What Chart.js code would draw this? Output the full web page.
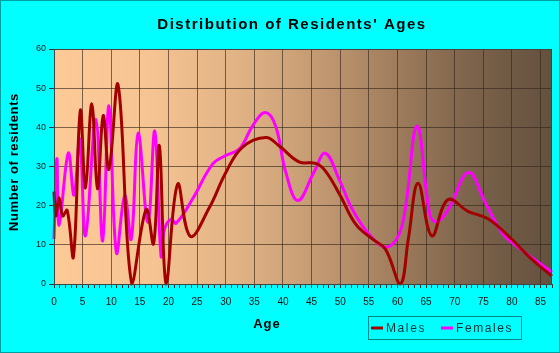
<!DOCTYPE html>
<html>
<head>
<meta charset="utf-8">
<script src="https://cdn.jsdelivr.net/npm/chart.js@4"></script>
<style>
  html, body { margin: 0; padding: 0; background: #00ffff; }
  #wrap { width: 560px; height: 353px; }
</style>
</head>
<body>
<div id="wrap"><canvas id="ages" width="560" height="353"></canvas></div>
<script>
// values (age, residents)
const maleAges = [0, 0.3, 0.9, 1.5, 2.3, 3.4, 4.6, 5.5, 6.6, 7.6, 8.6, 9.6, 11.2, 13.6, 16.1, 17.4, 18.4, 19.6, 21.6, 23.8,
    27.1, 30, 32.9, 37, 39.3, 42.8, 45.7, 47.4, 50, 52.7, 55.6, 57.9, 60.5, 61.9, 63.6, 66, 68.8, 72.4, 75.9, 79.9, 83.4, 87];
const maleCounts = [23.6, 17.4, 22, 17.4, 18.8, 7, 44.3, 24.5, 46, 24.3, 43, 29.3, 50.8, 0, 19, 10.3, 35.3, 0, 25.5, 12.2,
    19.4, 28.4, 34.9, 37.4, 35.3, 31.2, 30.8, 28.9, 22.6, 15.3, 11.5, 8.9, 0, 11.5, 25.7, 12.3, 21.5, 18.5, 16.6, 11.5, 6.4, 2];

const femaleAges = [0, 0.5, 0.9, 2.5, 3.5, 4.5, 5.5, 7.3, 8.5, 9.6, 10.9, 12.35, 13.5, 14.7, 16.4, 17.6, 18.7, 19.3, 20.5, 21.3,
    24.2, 27.7, 30, 32.4, 34.7, 36.9, 38.7, 40.5, 42.6, 45.4, 47.4, 49.8, 52.1, 55, 58.2, 60.8, 63.4, 65.7, 66.9, 68.9,
    72.4, 75.3, 78.2, 80.7, 87];
const femaleCounts = [11.5, 32, 15, 33.4, 22.7, 37, 12.3, 42, 11, 45.5, 8, 22.5, 11.5, 38.5, 15.7, 39, 7.2, 14, 16.6, 15.5,
    21.7, 30.6, 32.8, 34.5, 40.4, 43.8, 40.4, 28.5, 21.3, 28.5, 33.4, 26.8, 19.1, 12.8, 9.4, 14.9, 40.3, 17.4, 15.9, 19.1,
    28.5, 20.9, 13.2, 9.8, 3];

const seriesNames = ['Males', 'Females'];
const chartTitle = "Distribution of Residents' Ages";
const xTitle = 'Age';
const yTitle = 'Number of residents';

function toPoints(xs, ys) {
    return xs.map((x, i) => ({ x: x, y: ys[i] }));
}

const FONT = '"Liberation Sans", Arial, sans-serif';

// plot background + frame + texts
const decor = {
    id: 'decor',
    beforeDraw(chart) {
        const { ctx, chartArea: a, width, height } = chart;
        ctx.save();
        ctx.fillStyle = '#00ffff';
        ctx.fillRect(0, 0, width, height);
        const g = ctx.createLinearGradient(a.left, 0, a.right, 0);
        g.addColorStop(0, '#fcc997');
        g.addColorStop(0.2, '#f6c392');
        g.addColorStop(0.4, '#dcaf82');
        g.addColorStop(0.55, '#bf9670');
        g.addColorStop(0.7, '#9c7a5b');
        g.addColorStop(0.85, '#7a614a');
        g.addColorStop(1, '#63513e');
        ctx.fillStyle = g;
        ctx.fillRect(a.left, a.top, a.right - a.left, a.bottom - a.top);
        ctx.restore();
    },
    afterDraw(chart) {
        const { ctx, chartArea: a, width, height } = chart;
        ctx.save();
        // plot frame
        ctx.strokeStyle = '#444';
        ctx.lineWidth = 1;
        ctx.strokeRect(a.left + 0.5, a.top + 0.5, a.right - a.left - 1, a.bottom - a.top);
        // outer border
        ctx.strokeStyle = '#00a0a0';
        ctx.strokeRect(0.5, 0.5, width - 1, height - 1);

        ctx.fillStyle = '#000';
        ctx.textBaseline = 'middle';
        ctx.textAlign = 'center';
        ctx.letterSpacing = '1.5px';
        ctx.font = 'bold 15px ' + FONT;
        ctx.fillText(chartTitle, 292, 25);

        ctx.letterSpacing = '1px';
        ctx.font = 'bold 13px ' + FONT;
        ctx.fillText(xTitle, 267, 324);

        ctx.save();
        ctx.translate(14, 162);
        ctx.rotate(-Math.PI / 2);
        ctx.letterSpacing = '0.6px';
        ctx.font = 'bold 13px ' + FONT;
        ctx.fillText(yTitle, 0, 0);
        ctx.restore();

        // legend box
        ctx.strokeStyle = '#008888';
        ctx.strokeRect(368.5, 316.5, 153, 23);
        ctx.textAlign = 'left';
        ctx.letterSpacing = '1.6px';
        ctx.font = '12px ' + FONT;
        const items = [
            { label: seriesNames[0], color: chart.data.datasets[0].borderColor, x: 371 },
            { label: seriesNames[1], color: chart.data.datasets[1].borderColor, x: 441 }
        ];
        items.forEach(it => {
            ctx.strokeStyle = it.color;
            ctx.lineWidth = 3;
            ctx.beginPath();
            ctx.moveTo(it.x, 328);
            ctx.lineTo(it.x + 12, 328);
            ctx.stroke();
            ctx.fillStyle = '#003333';
            ctx.fillText(it.label, it.x + 15, 328.5);
        });
        ctx.restore();
    }
};

new Chart(document.getElementById('ages'), {
    type: 'line',
    data: {
        datasets: [{
            label: seriesNames[0],
            data: toPoints(maleAges, maleCounts),
            borderColor: '#a30000',
            borderWidth: 3,
            pointRadius: 0,
            tension: 0.4,
            clip: 4
        }, {
            label: seriesNames[1],
            data: toPoints(femaleAges, femaleCounts),
            borderColor: '#ff00ff',
            borderWidth: 3,
            pointRadius: 0,
            tension: 0.4,
            clip: 4
        }]
    },
    options: {
        responsive: false,
        animation: false,
        layout: { padding: { top: 49, right: 6, left: 0, bottom: 0 } },
        plugins: {
            legend: { display: false },
            title: { display: false },
            tooltip: { enabled: false }
        },
        scales: {
            x: {
                type: 'linear',
                min: 0,
                max: 87,
                afterFit: s => { s.height = 69; },
                afterBuildTicks: s => {
                    s.ticks = [];
                    for (let v = 0; v <= 87; v++) s.ticks.push({ value: v });
                },
                ticks: {
                    autoSkip: false,
                    maxRotation: 0,
                    padding: 8,
                    color: '#111',
                    font: { family: FONT, size: 10 },
                    callback: v => (v % 5 === 0 ? String(v) : '')
                },
                grid: {
                    color: c => (c.tick && c.tick.value % 5 === 0 && c.tick.value > 0 ? 'rgba(55,40,28,0.65)' : 'rgba(0,0,0,0)'),
                    tickColor: '#333',
                    tickLength: 4
                },
                border: { color: '#444' }
            },
            y: {
                min: 0,
                max: 60,
                afterFit: s => { s.width = 54; },
                ticks: {
                    stepSize: 10,
                    padding: 3,
                    color: '#222',
                    font: { family: FONT, size: 9 }
                },
                grid: {
                    color: c => (c.tick && c.tick.value > 0 && c.tick.value < 60 ? 'rgba(55,40,28,0.65)' : 'rgba(0,0,0,0)'),
                    tickColor: '#333',
                    tickLength: 5
                },
                border: { color: '#444' }
            }
        }
    },
    plugins: [decor]
});
</script>
</body>
</html>
